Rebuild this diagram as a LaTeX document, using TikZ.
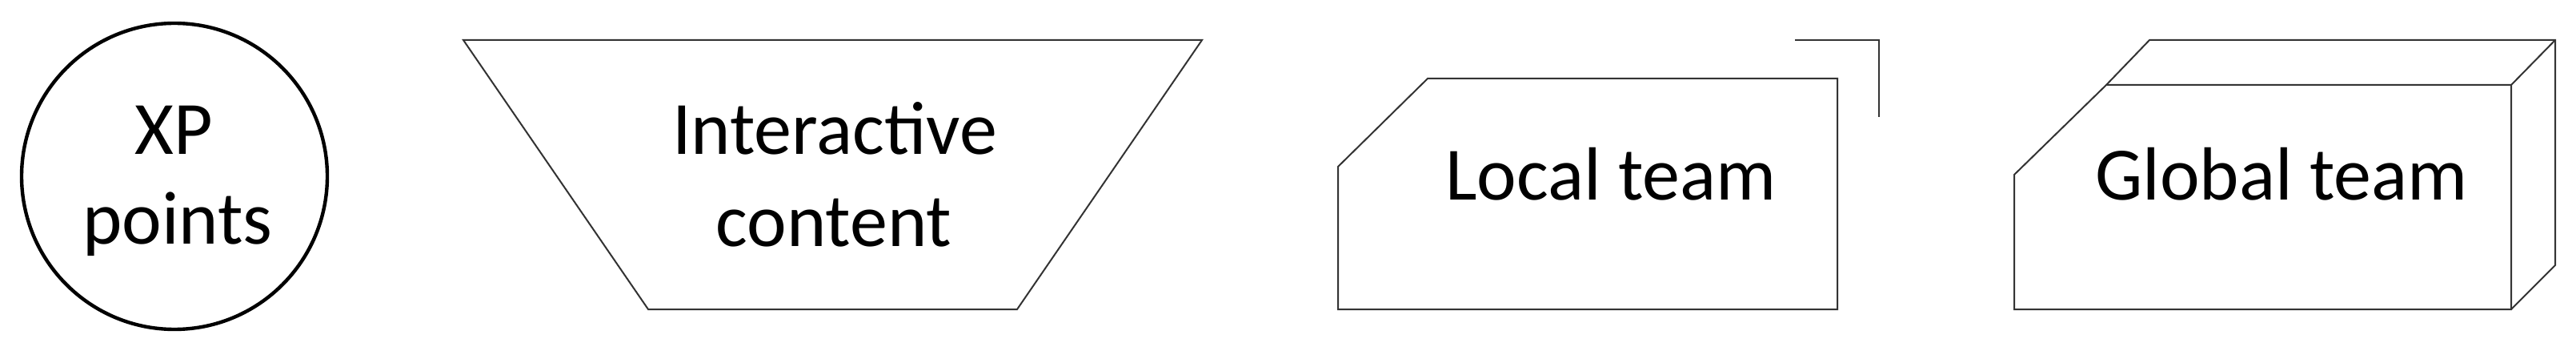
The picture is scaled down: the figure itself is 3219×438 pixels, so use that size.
\documentclass[tikz,border=0pt]{standalone}
\usepackage{fontspec}
\setmainfont{Carlito}
\begin{document}
\begin{tikzpicture}[x=0.5pt,y=-0.5pt,
  shapeline/.style={draw=black!80, line width=1pt, line join=miter},
  lbl/.style={inner sep=0pt, anchor=base, font=\fontsize{47}{57}\selectfont}]
\useasboundingbox (0,0) rectangle (3219,438);
% XP points
\node[circle, draw=black, line width=2.2pt, inner sep=0pt, minimum size=191pt] (xp) at (218,220) {};
\node[lbl] (xp1) at (217,193) {XP};
\node[lbl] (xp2) at (222,305) {points};
% Interactive content
\draw[shapeline] (579,50) -- (1502,50) -- (1271,386) -- (810,386) -- cycle;
\node[lbl] (ic1) at (1043,193) {Interactive};
\node[lbl] (ic2) at (1042,307) {content};
% Local team
\draw[shapeline] (1672,386) -- (1672,208) -- (1784,98) -- (2296,98) -- (2296,386) -- cycle;
\draw[shapeline] (2243,50) -- (2348,50) -- (2348,146);
\node[lbl] (lt) at (2013,250) {Local team};
% Global team
\draw[shapeline] (2517,386) -- (2517,218) -- (2632,106) -- (3138,106) -- (3138,386) -- cycle;
\draw[shapeline] (2632,106) -- (2686,50) -- (3193,50) -- (3193,331) -- (3138,386);
\draw[shapeline] (3138,106) -- (3193,50);
\node[lbl] (gt) at (2851,250) {Global team};
\end{tikzpicture}
\end{document}
